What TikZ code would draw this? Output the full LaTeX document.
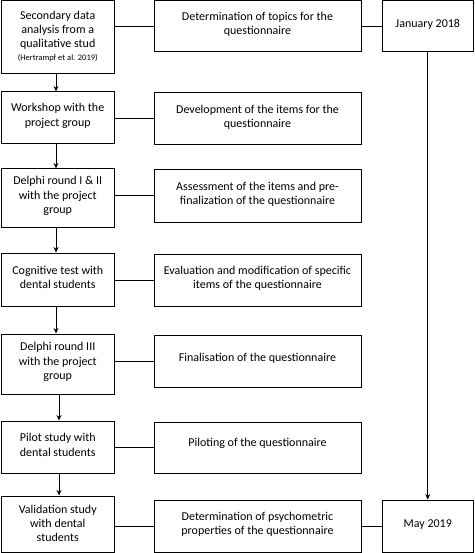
\documentclass[tikz,border=0pt]{standalone}
\usepackage{fontspec}
\setmainfont{Carlito}
\usetikzlibrary{arrows.meta}
\begin{document}
\begin{tikzpicture}[x=1pt,y=-1pt,
  box/.style={draw=black, line width=1pt, fill=white, inner sep=0pt},
  txt/.style={align=center, inner sep=0pt, font=\fontsize{12}{14.3}\selectfont},
  lbox/.style={box, minimum width=112.5pt},
  mbox/.style={box, minimum width=207pt},
  rbox/.style={box, minimum width=91.5pt},
  link/.style={draw=black, line width=1pt},
  arr/.style={draw=black, line width=1pt, -{Stealth[length=5.5pt,width=5pt]}}
]
\useasboundingbox (0,0) rectangle (474,553);
\fill[white] (0,0) rectangle (474,553);

% left column
\node[lbox, minimum height=73.5pt] (l1) at (57.75,37.25) {};
\node[lbox, minimum height=52pt] (l2) at (57.75,118) {};
\node[lbox, minimum height=58pt] (l3) at (57.75,198) {};
\node[lbox, minimum height=53pt] (l4) at (57.75,279.5) {};
\node[lbox, minimum height=60pt] (l5) at (57.75,364) {};
\node[lbox, minimum height=52pt] (l6) at (57.75,447) {};
\node[lbox, minimum height=56.5pt] (l7) at (57.75,524.25) {};
\node[txt] (tl1) at ([yshift=1pt]l1.center) {Secondary data\\analysis from a\\qualitative stud\\[-2pt]{\fontsize{8.5}{10}\selectfont (Hertrampf et al. 2019)}};
\node[txt] (tl2) at ([yshift=2pt]l2.center) {Workshop with the\\project group};
\node[txt] (tl3) at ([yshift=2pt]l3.center) {Delphi round I \& II\\with the project\\group};
\node[txt] (tl4) at ([yshift=2pt]l4.center) {Cognitive test with\\dental students};
\node[txt] (tl5) at ([yshift=2pt]l5.center) {Delphi round III\\with the project\\group};
\node[txt] (tl6) at ([yshift=2pt]l6.center) {Pilot study with\\dental students};
\node[txt] (tl7) at ([yshift=1pt]l7.center) {Validation study\\with dental\\students};

% middle column
\node[mbox, minimum height=51.5pt] (m1) at (257.5,26.25) {};
\node[mbox, minimum height=52pt] (m2) at (257.5,119) {};
\node[mbox, minimum height=52pt] (m3) at (257.5,196) {};
\node[mbox, minimum height=52pt] (m4) at (257.5,280) {};
\node[mbox, minimum height=52pt] (m5) at (257.5,361) {};
\node[mbox, minimum height=51pt] (m6) at (257.5,447.5) {};
\node[mbox, minimum height=52.5pt] (m7) at (257.5,526.25) {};
\node[txt] (tm1) at ([yshift=2pt]m1.center) {Determination of topics for the\\questionnaire};
\node[txt] (tm2) at ([yshift=2pt]m2.center) {Development of the items for the\\questionnaire};
\node[txt] (tm3) at ([yshift=2pt]m3.center) {Assessment of the items and pre-\\finalization of the questionnaire};
\node[txt] (tm4) at ([yshift=2pt]m4.center) {Evaluation and modification of specific\\items of the questionnaire};
\node[txt] (tm5) at ([yshift=3pt]m5.center) {Finalisation of the questionnaire};
\node[txt] (tm6) at ([yshift=4pt]m6.center) {Piloting of the questionnaire};
\node[txt] (tm7) at ([yshift=2pt]m7.center) {Determination of psychometric\\properties of the questionnaire};

% right column
\node[rbox, minimum height=51.5pt] (r1) at (427.75,26.25) {};
\node[rbox, minimum height=52.5pt] (r2) at (427.75,526.25) {};
\node[txt] (tr1) at ([yshift=2pt]r1.center) {January 2018};
\node[txt] (tr2) at ([yshift=2pt]r2.center) {May 2019};

% horizontal links
\foreach \i in {1,...,7} {
  \draw[link] (m\i.west) -- (m\i.west -| l\i.east);
}
\draw[link] (m1.east) -- (r1.west);
\draw[link] (m7.east) -- (r2.west);

% vertical arrows
\draw[arr] ([xshift=-1.75pt]l1.south) -- ([xshift=-1.75pt]l2.north);
\draw[arr] ([xshift=-1.75pt]l2.south) -- ([xshift=-1.75pt]l3.north);
\draw[arr] ([xshift=-1.75pt]l3.south) -- ([xshift=-1.75pt]l4.north);
\draw[arr] ([xshift=-1.75pt]l4.south) -- ([xshift=-1.75pt]l5.north);
\draw[arr] ([xshift=1.25pt]l5.south) -- ([xshift=1.25pt]l6.north);
\draw[arr] ([xshift=1.25pt]l6.south) -- ([xshift=1.25pt]l7.north);
\draw[arr] (r1.south) -- (r2.north);
\end{tikzpicture}
\end{document}
